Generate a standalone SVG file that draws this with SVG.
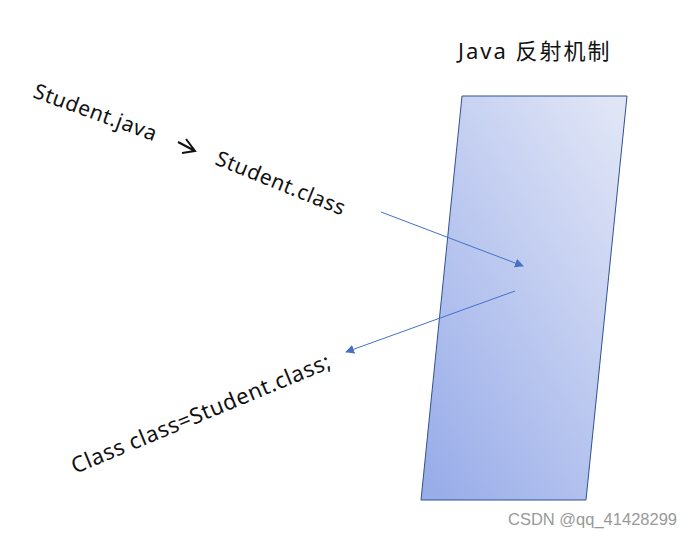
<svg xmlns="http://www.w3.org/2000/svg" width="693" height="537" viewBox="0 0 693 537">
<style>
.t{font-family:"Noto Sans","Liberation Sans",sans-serif;font-size:21px;letter-spacing:0.6px;fill:#111;}
.c{stroke:#4472c4;stroke-width:1;fill:none;}
</style>
<defs>
<linearGradient id="g" x1="0.9" y1="0" x2="0.1" y2="1">
<stop offset="0" stop-color="#e0e5f6"/>
<stop offset="1" stop-color="#99ade9"/>
</linearGradient>
<marker id="a" viewBox="0 0 10 10" refX="9" refY="5" markerWidth="9" markerHeight="9" markerUnits="userSpaceOnUse" orient="auto">
<path d="M0,0 L10,5 L0,10 z" fill="#4472c4"/>
</marker>
</defs>
<rect width="693" height="537" fill="#fff"/>
<g id="mechanism">
<polygon points="462,96 627,96 586,500 421,500" fill="url(#g)" stroke="#2f528f" stroke-width="1"/>
<text x="458" y="59" font-family="'Noto Sans','Noto Sans CJK SC',sans-serif" font-size="22" letter-spacing="2" fill="#111">Java 反射机制</text>
</g>
<g id="java">
<text class="t" transform="translate(32,97) rotate(20)">Student.java</text>
</g>
<g id="classfile">
<text class="t" transform="translate(214,164) rotate(22)">Student.class</text>
</g>
<g id="code">
<text class="t" transform="translate(75,474) rotate(-22.5)" style="font-size:22px">Class class=Student.class;</text>
</g>
<g id="connectors">
<path d="M178,142 L195,151 M186,139 L195,151 L182,153" stroke="#111" stroke-width="2" fill="none"/>
<line class="c" x1="381" y1="212" x2="523" y2="266" marker-end="url(#a)"/>
<line class="c" x1="515" y1="291" x2="346" y2="352" marker-end="url(#a)"/>
</g>
<text x="508" y="525" font-family="'Liberation Sans',sans-serif" font-size="16.5" fill="#999">CSDN @qq_41428299</text>
</svg>
